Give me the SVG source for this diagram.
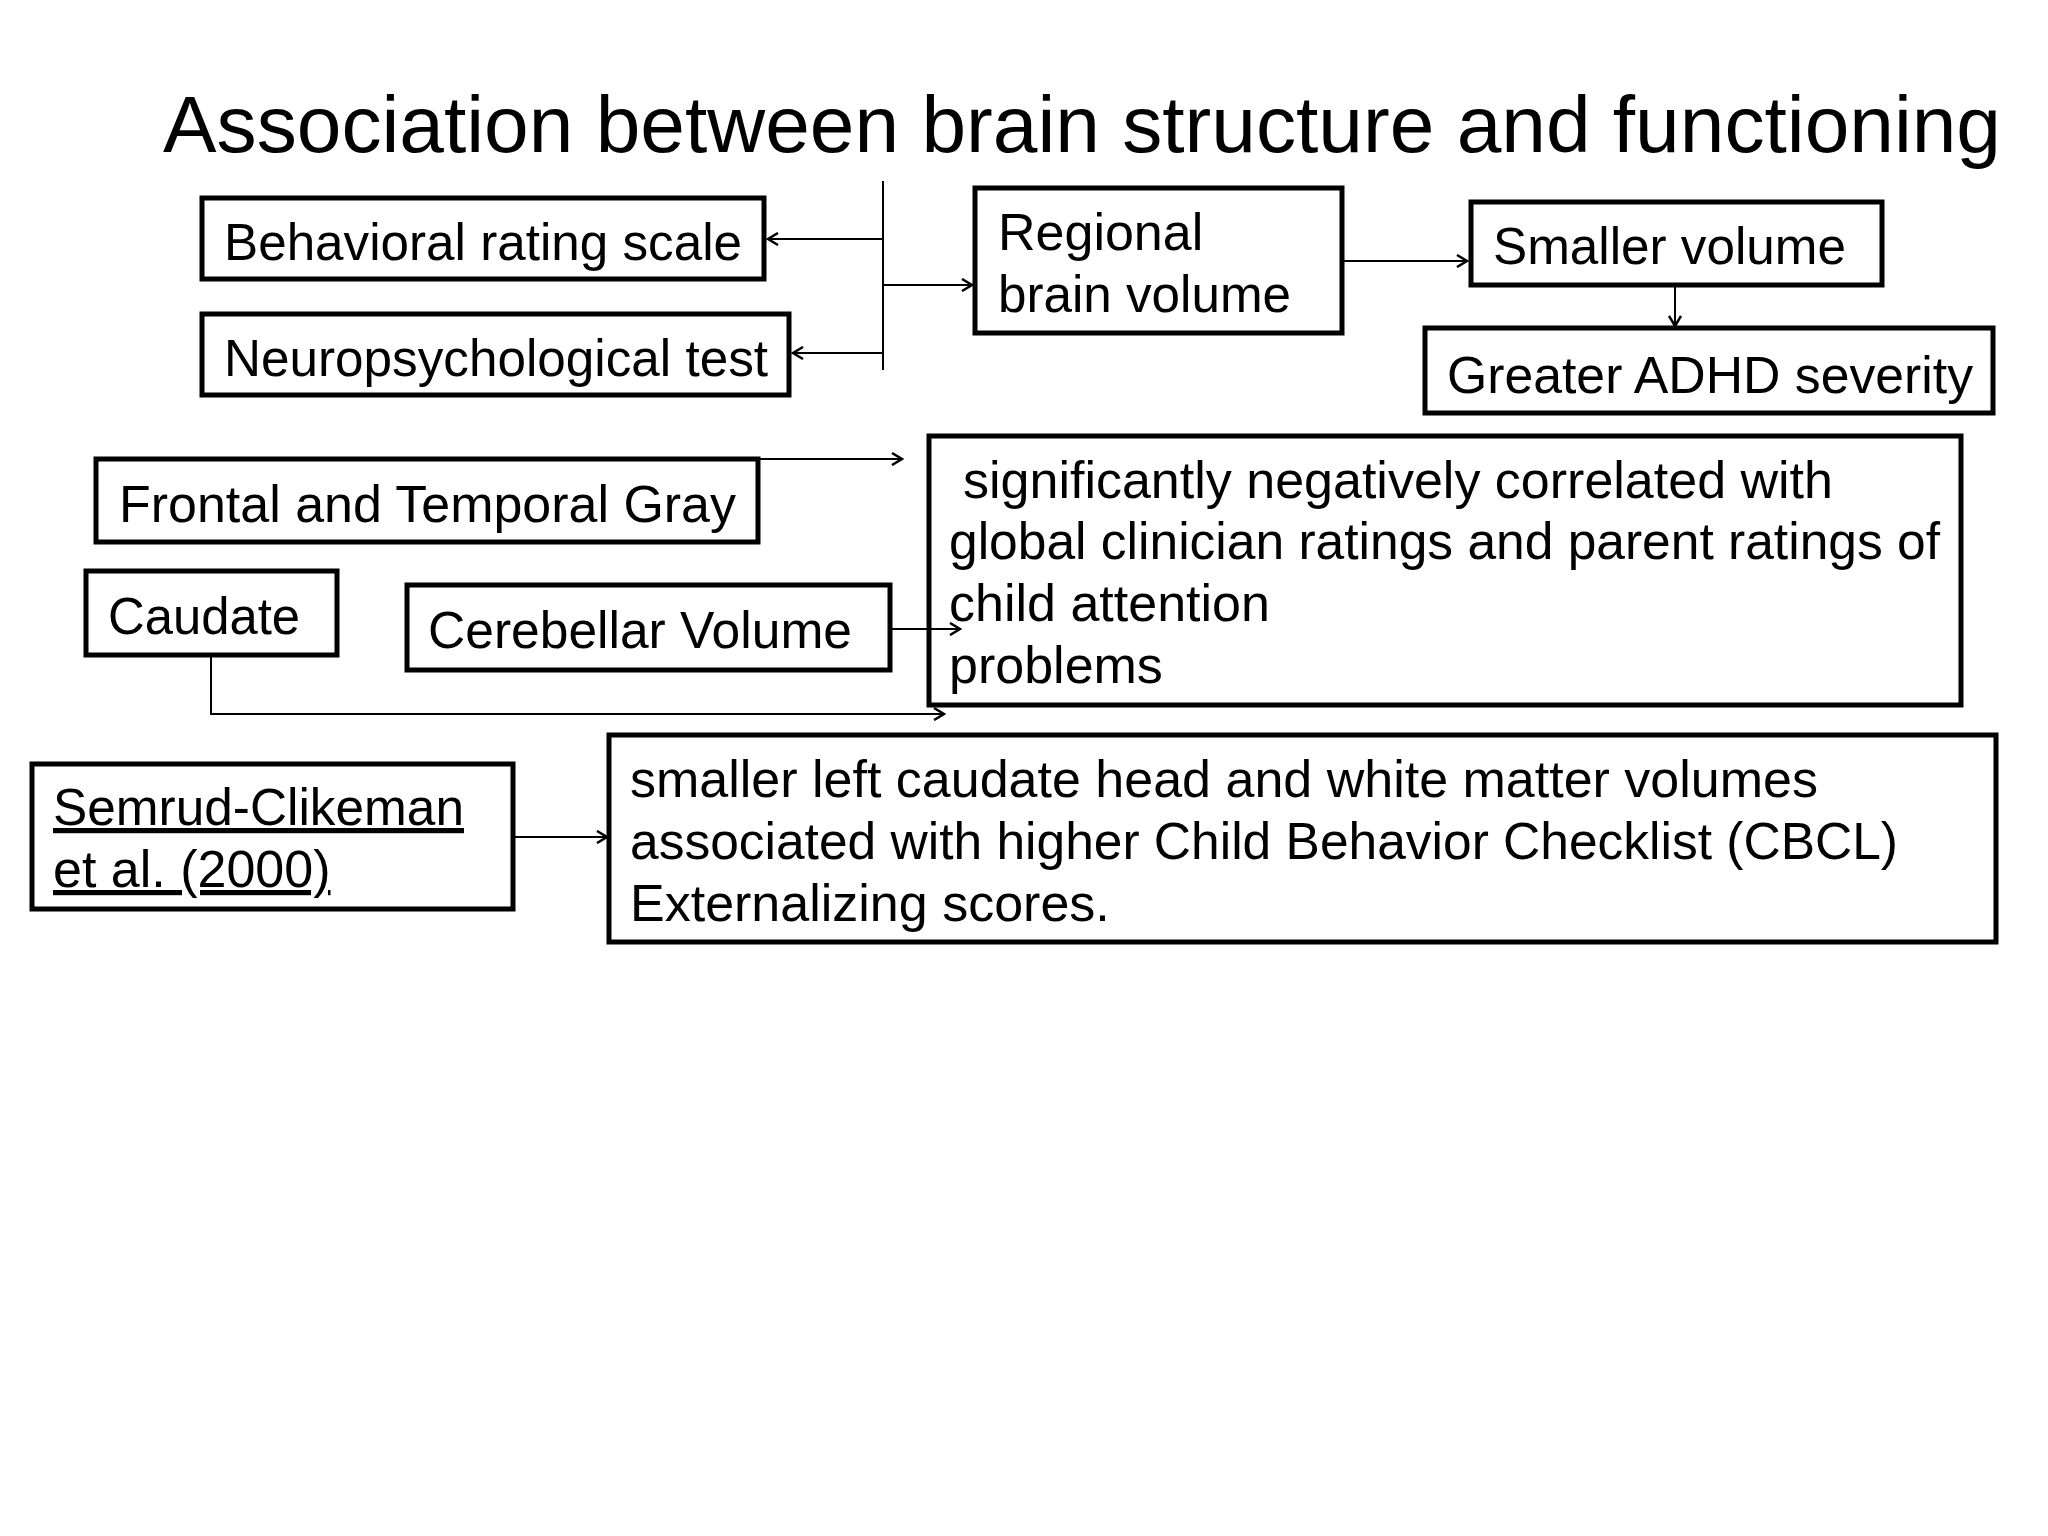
<svg xmlns="http://www.w3.org/2000/svg" width="2048" height="1536" viewBox="0 0 2048 1536">
<style>
text{font-family:"Liberation Sans",Arial,sans-serif;font-size:52px;fill:#000}
.b{fill:#fff;stroke:#000;stroke-width:5}
.c{fill:none;stroke:#000;stroke-width:2}
</style>
<defs><marker id="a" markerWidth="14" markerHeight="14" refX="12" refY="7" orient="auto" markerUnits="userSpaceOnUse"><path d="M2,1 L12,7 L2,13" fill="none" stroke="#000" stroke-width="2.5"/></marker></defs>
<rect width="2048" height="1536" fill="#fff"/>
<text x="163" y="152" style="font-size:80px" textLength="1838" lengthAdjust="spacingAndGlyphs">Association between brain structure and functioning</text>
<g id="n1"><rect class="b" x="202" y="198" width="562" height="81"/><text x="224" y="260" textLength="518" lengthAdjust="spacingAndGlyphs">Behavioral rating scale</text></g>
<g id="n2"><rect class="b" x="202" y="314" width="587" height="81"/><text x="224" y="376" textLength="544" lengthAdjust="spacingAndGlyphs">Neuropsychological test</text></g>
<g id="n3"><rect class="b" x="975" y="188" width="367" height="145"/><text x="998" y="250">Regional</text><text x="998" y="312" textLength="293" lengthAdjust="spacingAndGlyphs">brain volume</text></g>
<g id="n4"><rect class="b" x="1471" y="202" width="411" height="83"/><text x="1493" y="264" textLength="353" lengthAdjust="spacingAndGlyphs">Smaller volume</text></g>
<g id="n5"><rect class="b" x="1425" y="328" width="568" height="85"/><text x="1447" y="393" textLength="526" lengthAdjust="spacingAndGlyphs">Greater ADHD severity</text></g>
<g id="n6"><rect class="b" x="96" y="459" width="662" height="83"/><text x="119" y="522" textLength="617" lengthAdjust="spacingAndGlyphs">Frontal and Temporal Gray</text></g>
<g id="n7"><rect class="b" x="86" y="571" width="251" height="84"/><text x="108" y="634" textLength="192" lengthAdjust="spacingAndGlyphs">Caudate</text></g>
<g id="n8"><rect class="b" x="407" y="585" width="483" height="85"/><text x="428" y="648" textLength="424" lengthAdjust="spacingAndGlyphs">Cerebellar Volume</text></g>
<g id="n9"><rect class="b" x="929" y="436" width="1032" height="269"/>
<text x="963" y="498"> significantly negatively correlated with</text>
<text x="949" y="559" textLength="991" lengthAdjust="spacingAndGlyphs">global clinician ratings and parent ratings of</text>
<text x="949" y="621">child attention</text>
<text x="949" y="683">problems</text></g>
<g id="n10"><rect class="b" x="32" y="764" width="481" height="145"/><text x="53" y="825" text-decoration="underline" textLength="411" lengthAdjust="spacingAndGlyphs">Semrud-Clikeman</text><text x="53" y="887" text-decoration="underline">et al. (2000)</text></g>
<g id="n11"><rect class="b" x="609" y="735" width="1387" height="207"/>
<text x="630" y="797">smaller left caudate head and white matter volumes</text>
<text x="630" y="859" textLength="1268" lengthAdjust="spacingAndGlyphs">associated with higher Child Behavior Checklist (CBCL)</text>
<text x="630" y="921">Externalizing scores.</text></g>
<g id="connectors">
<path class="c" d="M883,181 V370"/>
<path class="c" d="M883,239 H768" marker-end="url(#a)"/>
<path class="c" d="M883,353 H793" marker-end="url(#a)"/>
<path class="c" d="M883,285 H972" marker-end="url(#a)"/>
<path class="c" d="M1342,261 H1467" marker-end="url(#a)"/>
<path class="c" d="M1675,285 V326" marker-end="url(#a)"/>
<path class="c" d="M758,459 H902" marker-end="url(#a)"/>
<path class="c" d="M890,629 H960" marker-end="url(#a)"/>
<path class="c" d="M211,655 V714 H944" marker-end="url(#a)"/>
<path class="c" d="M513,837 H607" marker-end="url(#a)"/>
</g>
</svg>
